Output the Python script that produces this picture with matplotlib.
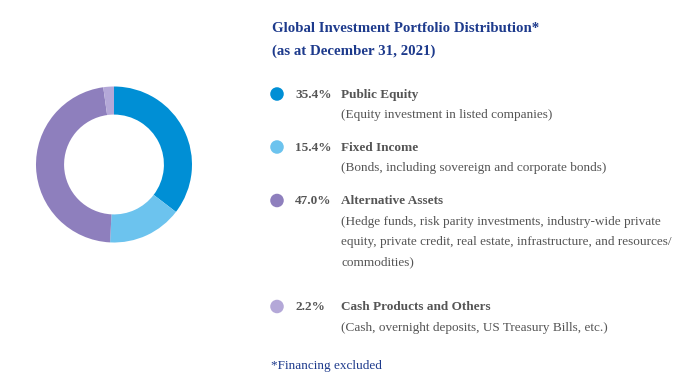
import matplotlib
matplotlib.use("Agg")
import matplotlib.pyplot as plt

# Portfolio split, as labelled
categories = ["Public Equity", "Fixed Income", "Alternative Assets", "Cash Products and Others"]
shares = [35.4, 15.4, 47.0, 2.2]
share_labels = ["35.4%", "15.4%", "47.0%", "2.2%"]
notes = [
    ["(Equity investment in listed companies)"],
    ["(Bonds, including sovereign and corporate bonds)"],
    ["(Hedge funds, risk parity investments, industry-wide private",
     "equity, private credit, real estate, infrastructure, and resources/",
     "commodities)"],
    ["(Cash, overnight deposits, US Treasury Bills, etc.)"],
]
colors = ["#008fd5", "#6cc3ee", "#8e7fbd", "#b4a8d8"]

W, H = 700, 380
fig = plt.figure(figsize=(W / 100, H / 100), dpi=100)
plt.rcParams["font.family"] = ["Liberation Serif", "DejaVu Serif"]

navy = "#1d3a8c"
grey = "#555555"

# donut
cx, cy, r = 114, 164.5, 78
ax = fig.add_axes([(cx - r) / W, (H - cy - r) / H, 2 * r / W, 2 * r / H])
ax.pie(shares, colors=colors, startangle=90, counterclock=False, radius=1,
       wedgeprops=dict(width=0.36, edgecolor="none"))
ax.set_xlim(-1, 1)
ax.set_ylim(-1, 1)
ax.set_aspect("equal")
ax.axis("off")

# overlay in pixel coordinates for the text block
ov = fig.add_axes([0, 0, 1, 1])
ov.set_xlim(0, W)
ov.set_ylim(H, 0)
ov.axis("off")

ov.text(272, 31.5, "Global Investment Portfolio Distribution*", color=navy,
        fontsize=10.7, fontweight="bold", va="baseline")
ov.text(272, 55, "(as at December 31, 2021)", color=navy,
        fontsize=10.7, fontweight="bold", va="baseline")

row_y = [94, 147, 200.5, 306.5]
line_gap = 20.5
for cat, lab, note, col, y in zip(categories, share_labels, notes, colors, row_y):
    ov.scatter([277], [y], s=95, color=col, edgecolors="none")
    base = y + 3.7
    ov.text(295, base, lab, color=grey, fontsize=9.5, fontweight="bold", va="baseline")
    ov.text(341, base, cat, color=grey, fontsize=9.5, fontweight="bold", va="baseline")
    for i, line in enumerate(note):
        ov.text(341, base + 20.3 + i * line_gap, line, color=grey, fontsize=9.5,
                va="baseline")

ov.text(271, 369, "*Financing excluded", color=navy, fontsize=9.5, va="baseline")

fig.savefig("out.png", dpi=100)
